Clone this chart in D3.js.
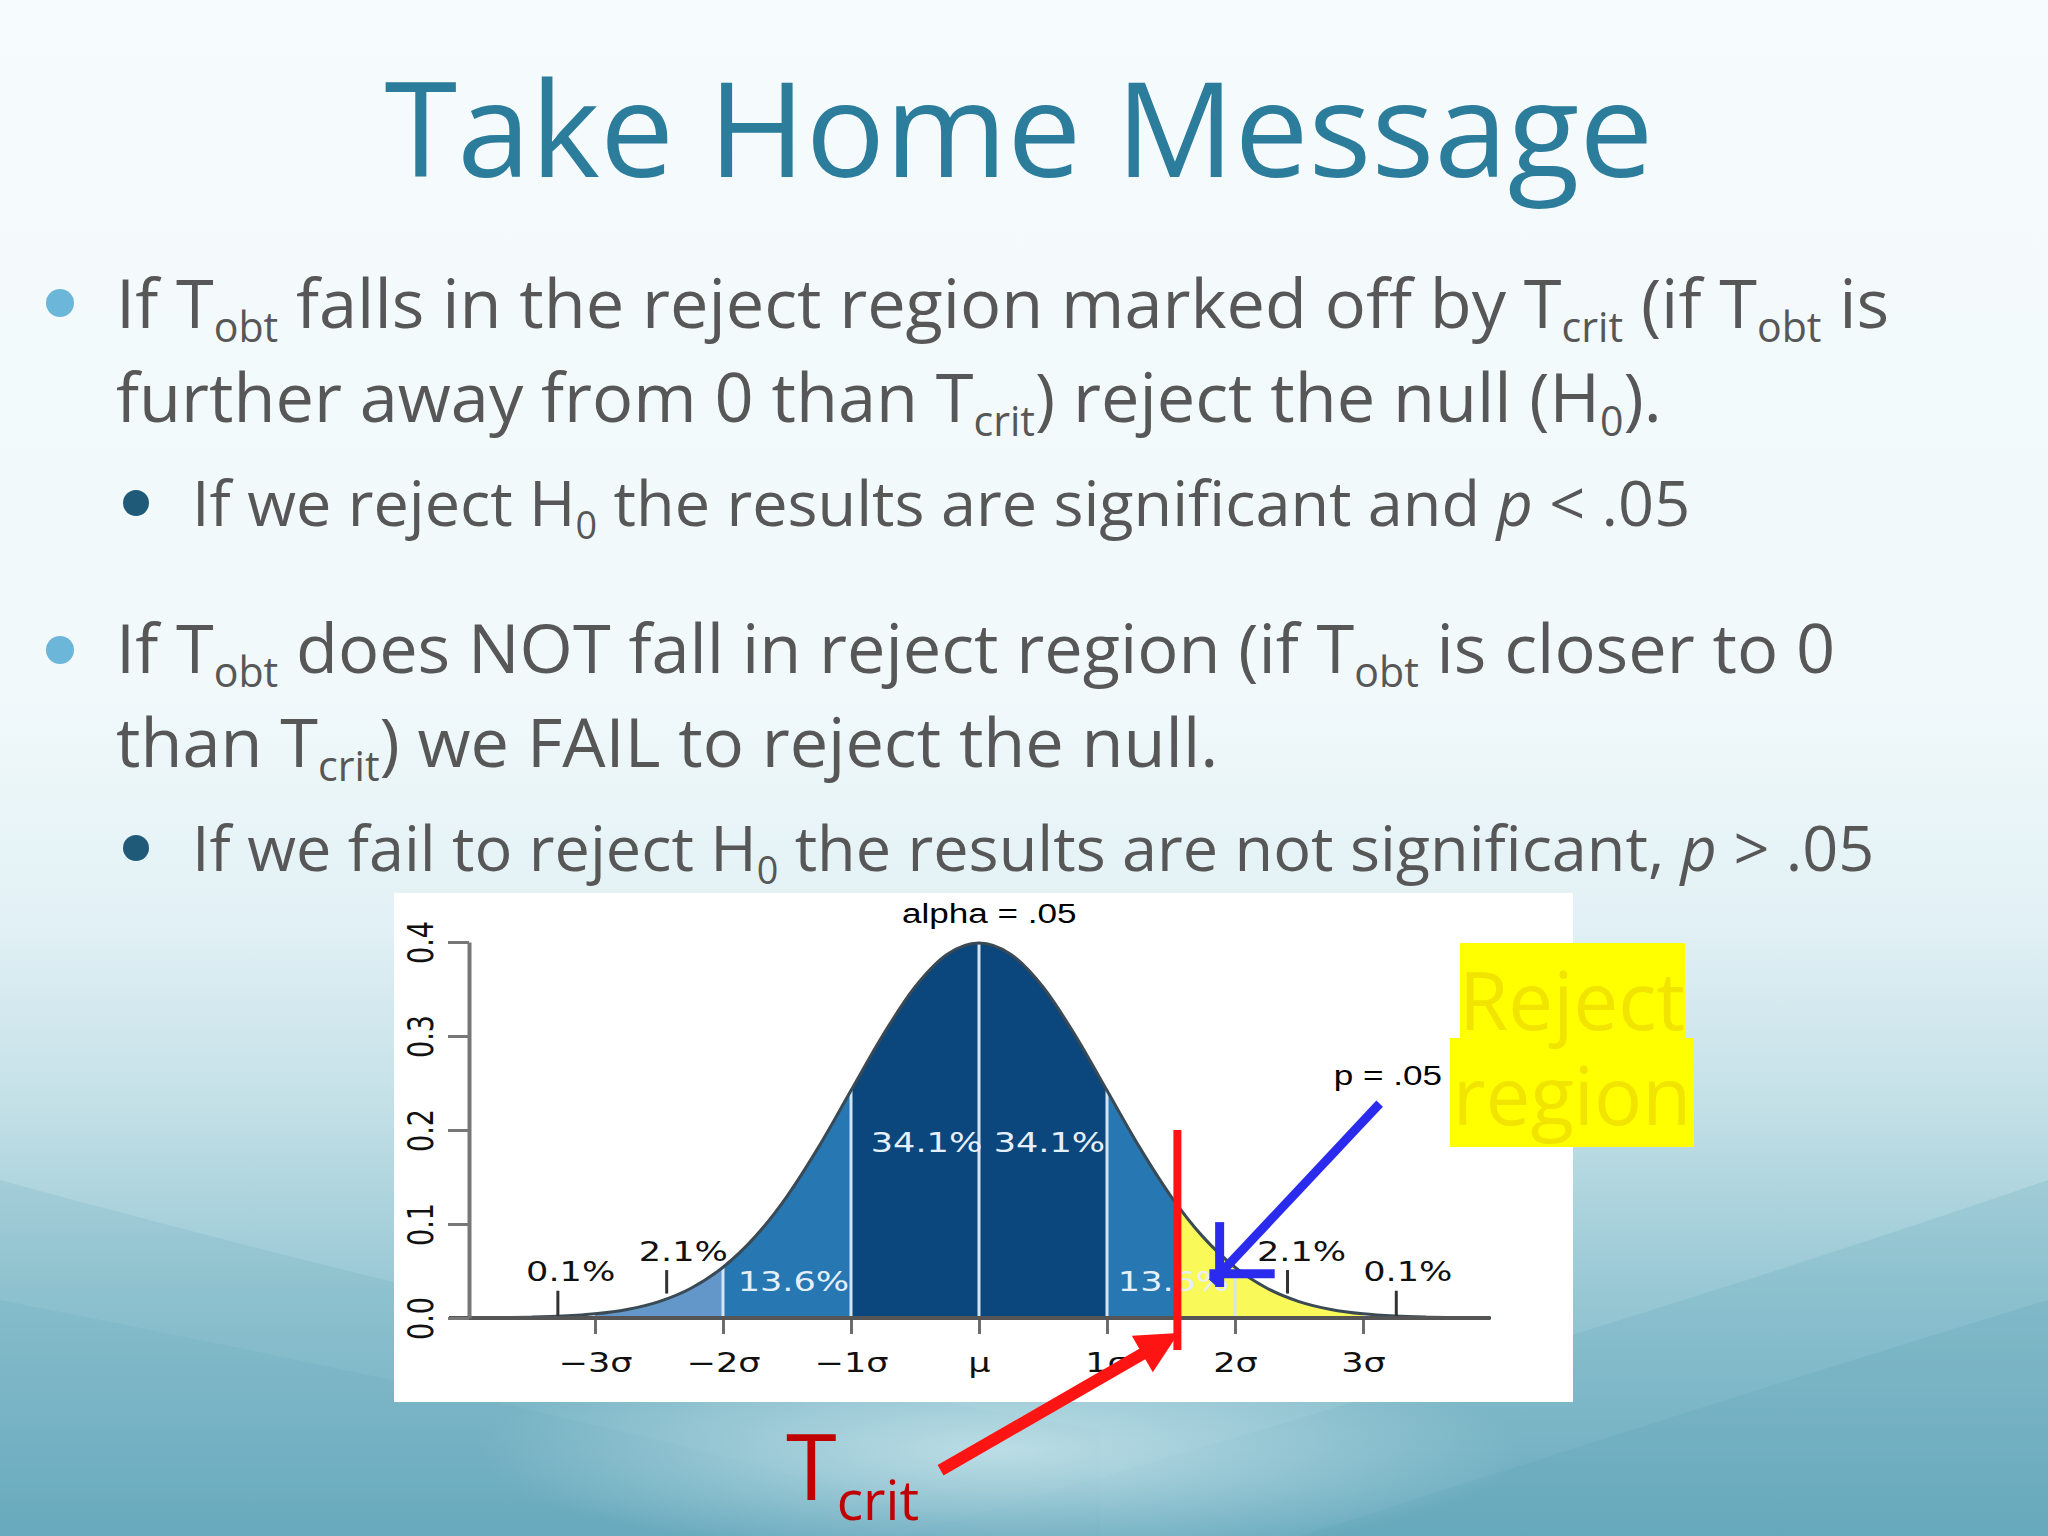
<!DOCTYPE html>
<html>
<head>
<meta charset="utf-8">
<script src="https://cdn.jsdelivr.net/npm/d3@7"></script>
<style>
  html, body { margin: 0; padding: 0; background: #fff; }
  svg { display: block; }
</style>
</head>
<body>
<svg id="slide" width="2048" height="1536" viewBox="0 0 2048 1536"></svg>
<script>
// ---- slide text ----
const TITLE = "Take Home Message";

// each line: [text, kind]  kind: "" normal, "sub" subscript, "it" italic
const BULLET_1 = [
  [["If T",""],["obt","sub"],[" falls in the reject region marked off by T",""],["crit","sub"],[" (if T",""],["obt","sub"],[" is",""]],
  [["further away from 0 than T",""],["crit","sub"],[") reject the null (H",""],["0","sub"],[").",""]]
];
const SUB_1 = [[["If we reject H",""],["0","sub"],[" the results are significant and ",""],["p","it"],[" < .05",""]]];
const BULLET_2 = [
  [["If T",""],["obt","sub"],[" does NOT fall in reject region (if T",""],["obt","sub"],[" is closer to 0",""]],
  [["than T",""],["crit","sub"],[") we FAIL to reject the null.",""]]
];
const SUB_2 = [[["If we fail to reject H",""],["0","sub"],[" the results are not significant, ",""],["p","it"],[" > .05",""]]];

// ---- chart data ----
const CHART_TITLE = "alpha = .05";
const P_LABEL = "p = .05";
const REJECT_LINES = ["Reject", "region"];

// density of the plotted curve, read at every quarter sigma
const SIGMA_GRID = [-4,-3.75,-3.5,-3.25,-3,-2.75,-2.5,-2.25,-2,-1.75,-1.5,-1.25,-1,-0.75,-0.5,-0.25,0,
                    0.25,0.5,0.75,1,1.25,1.5,1.75,2,2.25,2.5,2.75,3,3.25,3.5,3.75,4];
const DENSITY = [0.0001,0.0004,0.0009,0.0020,0.0044,0.0091,0.0175,0.0317,0.0540,0.0863,0.1295,0.1826,0.2420,0.3011,0.3521,0.3867,0.3989,
                 0.3867,0.3521,0.3011,0.2420,0.1826,0.1295,0.0863,0.0540,0.0317,0.0175,0.0091,0.0044,0.0020,0.0009,0.0004,0.0001];

const X_TICKS = [-3,-2,-1,0,1,2,3];
const X_TICK_LABELS = ["\u22123\u03c3","\u22122\u03c3","\u22121\u03c3","\u03bc","1\u03c3","2\u03c3","3\u03c3"];
const Y_TICKS = [0,0.1,0.2,0.3,0.4];
const Y_TICK_LABELS = ["0.0","0.1","0.2","0.3","0.4"];

const T_CRIT = 1.55;
// shaded bands [from, to, fill]
const BAND_FROM = [-3,-2,-1,1,T_CRIT];
const BAND_TO   = [-2,-1, 1,T_CRIT,3];
const BAND_FILL = ["#6497c9","#2777b3","#0b467c","#2777b3","#f9f95a"];
const DIVIDERS = [-2,-1,0,1,2];

// percentage labels: text, sigma, density level
const PCT_TEXT  = ["34.1%","34.1%","13.6%","13.6%","2.1%","2.1%","0.1%","0.1%"];
const PCT_SIGMA = [-0.41, 0.55, -1.45, 1.52, -2.31, 2.52, -3.19, 3.35];
const PCT_LEVEL = [0.177,0.177,0.029,0.029,0.061,0.061,0.039,0.039];
const PCT_LIGHT = [true,true,true,true,false,false,false,false];
// little pointer ticks: sigma, from level, to level
const PTR_SIGMA = [-2.44, 2.41, -3.29, 3.26];
const PTR_TOP   = [0.051, 0.051, 0.029, 0.029];
const PTR_BOT   = [0.026, 0.026, 0.002, 0.002];

// ---- drawing ----
const svg = d3.select("#slide");
const defs = svg.append("defs");

const bg = defs.append("linearGradient").attr("id","bgGrad").attr("x1",0).attr("y1",0).attr("x2",0).attr("y2",1);
[[0,"#f6fbfd"],[0.45,"#f1f9fb"],[0.6,"#e2f1f5"],[0.72,"#c3e0e7"],[0.84,"#98c8d4"],[1,"#6eaec1"]]
  .forEach(([o,c]) => bg.append("stop").attr("offset",o).attr("stop-color",c));
const glow = defs.append("radialGradient").attr("id","glow")
  .attr("cx",0.5).attr("cy",0.5).attr("r",0.5);
glow.append("stop").attr("offset",0).attr("stop-color","#cde8ee").attr("stop-opacity",0.8);
glow.append("stop").attr("offset",1).attr("stop-color","#cde8ee").attr("stop-opacity",0);

svg.append("rect").attr("width",2048).attr("height",1536).attr("fill","url(#bgGrad)");
// soft waves
svg.append("path").attr("d","M0,1180 C400,1290 800,1380 1100,1430 L1100,1536 L0,1536 Z")
  .attr("fill","#5fa3b7").attr("opacity",0.16);
svg.append("path").attr("d","M0,1300 C400,1380 700,1440 1000,1536 L0,1536 Z")
  .attr("fill","#5fa3b7").attr("opacity",0.14);
svg.append("path").attr("d","M900,1536 C1300,1420 1700,1300 2048,1180 L2048,1536 Z")
  .attr("fill","#5fa3b7").attr("opacity",0.2);
svg.append("path").attr("d","M1300,1536 C1600,1440 1850,1360 2048,1300 L2048,1536 Z")
  .attr("fill","#5a9fb3").attr("opacity",0.2);
svg.append("ellipse").attr("cx",1000).attr("cy",1450).attr("rx",520).attr("ry",110).attr("fill","url(#glow)");

// title
svg.append("text")
  .attr("x",1019).attr("y",177).attr("text-anchor","middle")
  .style("font-family","'Open Sans', 'Noto Sans', sans-serif")
  .style("font-size","132px").style("fill","#2c7c9c")
  .text(TITLE);

function richLine(x, y, size, segs, color) {
  const t = svg.append("text").attr("x",x).attr("y",y)
    .style("font-family","'Open Sans', 'Noto Sans', sans-serif")
    .style("font-size",size+"px").style("fill",color);
  let shifted = false;
  const shift = size*0.21;
  segs.forEach(([txt, kind]) => {
    const sp = t.append("tspan").text(txt);
    if (kind === "sub") {
      sp.attr("dy", shifted ? 0 : shift).style("font-size",(size*0.6)+"px");
      shifted = true;
    } else {
      if (shifted) sp.attr("dy", -shift);
      shifted = false;
      if (kind === "it") sp.style("font-style","italic");
    }
  });
}

function bullet(cx, cy, r, color) {
  svg.append("circle").attr("cx",cx).attr("cy",cy).attr("r",r).attr("fill",color);
}

const TXT = "#575757";
bullet(60, 303, 14, "#6cb6da");
BULLET_1.forEach((ln,i) => richLine(116, 328 + i*94, 68.5, ln, TXT));
bullet(136, 503, 13, "#1f5b78");
SUB_1.forEach(ln => richLine(192, 526, 63, ln, TXT));
bullet(60, 650, 14, "#6cb6da");
BULLET_2.forEach((ln,i) => richLine(116, 673 + i*94, 68.5, ln, TXT));
bullet(136, 848, 13, "#1f5b78");
SUB_2.forEach(ln => richLine(192, 871, 63, ln, TXT));

// ---- chart picture ----
svg.append("rect").attr("x",394).attr("y",893).attr("width",1179).attr("height",509).attr("fill","#ffffff");

const x = d3.scaleLinear().domain([-4,4]).range([467,1491]);
const y = d3.scaleLinear().domain([0,0.4]).range([1318,942]);
const STRETCH = 1.3;
const PLOT = "'DejaVu Sans', 'Liberation Sans', sans-serif";
const SANS = "'Liberation Sans', Arial, sans-serif";

function stretchText(sel) {
  sel.each(function() {
    const w = this.getComputedTextLength();
    d3.select(this).attr("textLength", w*STRETCH).attr("lengthAdjust","spacingAndGlyphs");
  });
}

const pts = SIGMA_GRID.map((s,i) => [s, DENSITY[i]]);
const area = d3.area().x(d => x(d[0])).y0(y(0)).y1(d => y(d[1])).curve(d3.curveMonotoneX);
const line = d3.line().x(d => x(d[0])).y(d => y(d[1])).curve(d3.curveMonotoneX);

defs.append("clipPath").attr("id","under").append("path").attr("d", area(pts));

const shade = svg.append("g").attr("clip-path","url(#under)");
shade.selectAll("rect.band").data(BAND_FROM).enter().append("rect")
  .attr("class","band")
  .attr("x", d => x(d))
  .attr("width", (d,i) => x(BAND_TO[i]) - x(d))
  .attr("y", y(0.42)).attr("height", y(0) - y(0.42))
  .attr("fill", (d,i) => BAND_FILL[i]);
shade.selectAll("line.div").data(DIVIDERS).enter().append("line")
  .attr("class","div")
  .attr("x1", d => x(d)).attr("x2", d => x(d))
  .attr("y1", y(0.42)).attr("y2", y(0))
  .attr("stroke","#d6e4f2").attr("stroke-width",3);

svg.append("path").attr("d", line(pts)).attr("fill","none")
  .attr("stroke","#3a4a55").attr("stroke-width",3);

// x axis
const xAxis = svg.append("g").attr("transform",`translate(0,${y(0)})`)
  .call(d3.axisBottom(x).tickValues(X_TICKS).tickSize(16).tickFormat((d,i) => X_TICK_LABELS[i]));
xAxis.select(".domain").remove();
xAxis.selectAll(".tick line").attr("stroke","#6d6d6d").attr("stroke-width",3);
xAxis.selectAll(".tick text")
  .attr("y",54).attr("dy",0)
  .style("font-family",PLOT).style("font-size","27px").style("fill","#111")
  .call(stretchText);
svg.append("line").attr("x1",449).attr("x2",1490).attr("y1",y(0)).attr("y2",y(0))
  .attr("stroke","#555").attr("stroke-width",4);

// y axis
const yAxis = svg.append("g").attr("transform",`translate(469,0)`)
  .call(d3.axisLeft(y).tickValues(Y_TICKS).tickSize(21).tickSizeOuter(0).tickFormat((d,i) => Y_TICK_LABELS[i]));
yAxis.select(".domain").attr("stroke","#777").attr("stroke-width",4);
yAxis.selectAll(".tick line").attr("stroke","#777").attr("stroke-width",3);
yAxis.selectAll(".tick text")
  .attr("x",0).attr("y",0).attr("dy",0)
  .attr("transform",`translate(-36,0) scale(${STRETCH},1) rotate(-90)`)
  .attr("text-anchor","middle")
  .style("font-family",PLOT).style("font-size","27px").style("fill","#111");

// percent labels
svg.selectAll("text.pct").data(PCT_TEXT).enter().append("text")
  .attr("class","pct")
  .attr("x",(d,i) => x(PCT_SIGMA[i])).attr("y",(d,i) => y(PCT_LEVEL[i]))
  .attr("text-anchor","middle")
  .style("font-family",PLOT).style("font-size","27px")
  .style("fill",(d,i) => PCT_LIGHT[i] ? "#e6f0fb" : "#111")
  .text(d => d)
  .call(stretchText);
svg.selectAll("line.ptr").data(PTR_SIGMA).enter().append("line")
  .attr("class","ptr")
  .attr("x1", d => x(d)).attr("x2", d => x(d))
  .attr("y1",(d,i) => y(PTR_TOP[i])).attr("y2",(d,i) => y(PTR_BOT[i]))
  .attr("stroke","#333").attr("stroke-width",3);

// titles inside picture
svg.append("text").attr("x",x(0.08)).attr("y",923).attr("text-anchor","middle")
  .style("font-family",SANS).style("font-size","27px").style("fill","#000")
  .text(CHART_TITLE).call(stretchText);

// reject region box
svg.append("rect").attr("x",1460).attr("y",943).attr("width",225).attr("height",96).attr("fill","#ffff00");
svg.append("rect").attr("x",1450).attr("y",1038).attr("width",244).attr("height",109).attr("fill","#ffff00");
svg.selectAll("text.rej").data(REJECT_LINES).enter().append("text")
  .attr("class","rej")
  .attr("x",1572).attr("y",(d,i) => 1030 + i*95)
  .attr("text-anchor","middle")
  .style("font-family","'Open Sans', 'Noto Sans', sans-serif").style("font-size","80px")
  .style("fill","#f0e400")
  .text(d => d);

svg.append("text").attr("x",1442).attr("y",1085).attr("text-anchor","end")
  .style("font-family",SANS).style("font-size","27px").style("fill","#000")
  .text(P_LABEL).call(stretchText);

// blue arrow to the reject area
const BLUE = "#2b2bee";
svg.append("line").attr("x1",x(3.13)).attr("y1",y(0.228)).attr("x2",x(1.82)).attr("y2",y(0.038))
  .attr("stroke",BLUE).attr("stroke-width",9);
svg.append("line").attr("x1",x(1.88)).attr("y1",y(0.102)).attr("x2",x(1.88)).attr("y2",y(0.033))
  .attr("stroke",BLUE).attr("stroke-width",9);
svg.append("line").attr("x1",x(1.80)).attr("y1",y(0.047)).attr("x2",x(2.31)).attr("y2",y(0.047))
  .attr("stroke",BLUE).attr("stroke-width",9);

// critical value line and arrow
const RED = "#ff1414";
svg.append("line").attr("x1",x(T_CRIT)).attr("x2",x(T_CRIT)).attr("y1",y(0.2)).attr("y2",y(-0.034))
  .attr("stroke",RED).attr("stroke-width",8);
const a0 = [x(-0.30), y(-0.162)], a1 = [x(1.56), y(-0.016)];
const dx = a1[0]-a0[0], dy = a1[1]-a0[1], len = Math.hypot(dx,dy);
const ux = dx/len, uy = dy/len, hl = 42, hw = 21;
const bx = a1[0]-ux*hl, by = a1[1]-uy*hl;
svg.append("line").attr("x1",a0[0]).attr("y1",a0[1]).attr("x2",bx+ux*4).attr("y2",by+uy*4)
  .attr("stroke",RED).attr("stroke-width",12);
svg.append("path")
  .attr("d",`M${a1[0]},${a1[1]} L${bx-uy*hw},${by+ux*hw} L${bx+uy*hw},${by-ux*hw} Z`)
  .attr("fill",RED);

// T crit label
const tc = svg.append("text").attr("x",786).attr("y",1500)
  .style("font-family","'Open Sans', 'Noto Sans', sans-serif").style("fill","#c00000");
tc.append("tspan").style("font-size","92px").text("T");
tc.append("tspan").attr("dy",20).style("font-size","55px").text("crit");
</script>
</body>
</html>
